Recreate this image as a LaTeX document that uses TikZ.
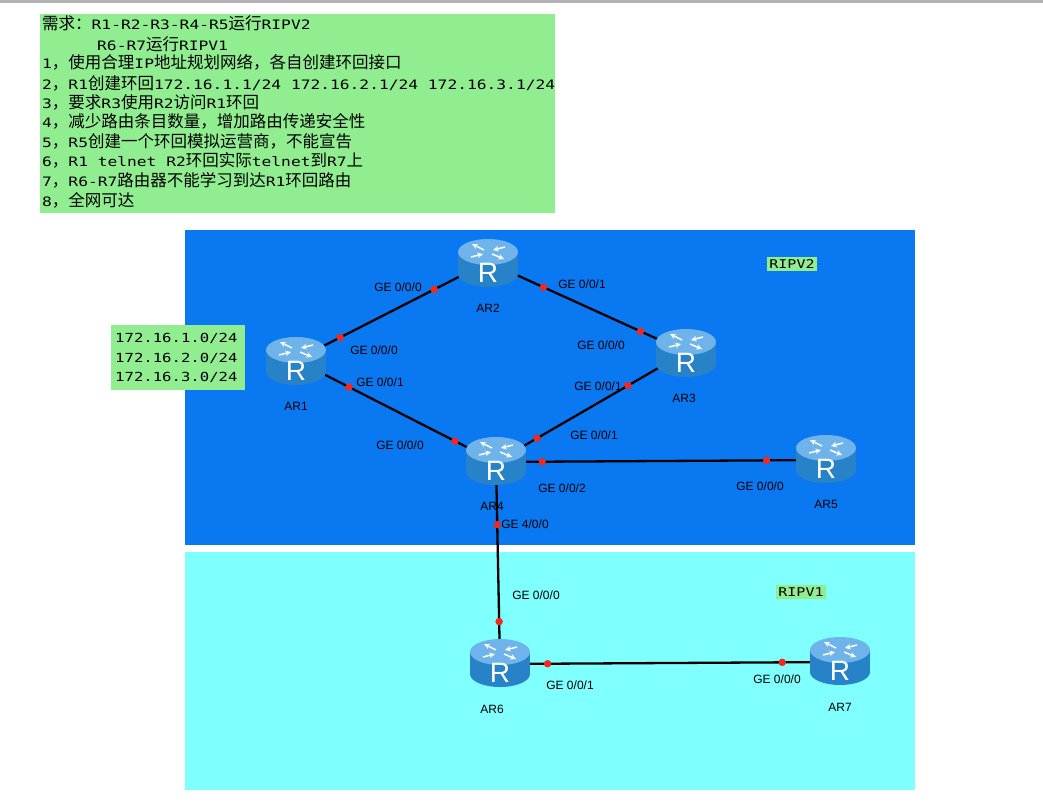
\documentclass[tikz,border=0pt]{standalone}
\usepackage{fontspec}
\setmainfont{Liberation Sans}
\newfontfamily\cjk{Noto Sans CJK SC}
\newfontfamily\mono[FakeStretch=1.25]{DejaVu Sans Mono}
\newcommand{\zh}[1]{{\cjk\fontsize{16.5}{17}\selectfont #1}}
\definecolor{rbody}{RGB}{40,130,200}
\definecolor{rtop}{RGB}{110,180,235}
\definecolor{lgreen}{RGB}{144,238,144}
\definecolor{areablue}{RGB}{10,120,240}
\definecolor{areacyan}{RGB}{128,255,255}
\definecolor{dotred}{RGB}{240,40,30}
\begin{document}
\begin{tikzpicture}[x=1pt,y=-1pt,
  lbl/.style={font=\fontsize{12}{13}\selectfont,inner sep=0},
  link/.style={line width=2.3pt,black},
  rnode/.style={minimum width=62pt,minimum height=54pt,inner sep=0},
  dot/.style={circle,fill=dotred,inner sep=0,minimum size=7.5pt},
  req/.style={anchor=west,inner sep=0,font=\mono\fontsize{13}{14}\selectfont},
  lbk/.style={anchor=west,inner sep=0,font=\mono\fontsize{12.5}{14}\selectfont},
  tag/.style={fill=lgreen,inner sep=2.5pt,font=\mono\fontsize{12}{13}\selectfont},
  router/.pic={
    \fill[rbody] (-30,-10) rectangle (30,12);
    \fill[rbody] (0,12) ellipse [x radius=30,y radius=13];
    \fill[rtop] (0,-10) ellipse [x radius=30,y radius=13];
    \draw[white,line width=1.5pt,-stealth] (-4,-12)--(-16,-18);
    \draw[white,line width=1.5pt,-stealth] (4,-8)--(16,-3);
    \draw[white,line width=1.5pt,-stealth] (-17,-5)--(-5,-8);
    \draw[white,line width=1.5pt,-stealth] (17,-15)--(5,-12);
    \node[white,font=\fontsize{28}{28}\selectfont] at (0,11) {R};
  }]
\useasboundingbox (0,0) rectangle (1043,808);
\fill[white] (0,0) rectangle (1043,808);
\fill[gray!60] (0,0) rectangle (1043,3);
\fill[areablue] (185,230) rectangle (915,545);
\fill[areacyan] (185,552) rectangle (915,790);
\fill[lgreen] (40,14) rectangle (555,213);
\node[req] (q0) at (42,23) {\zh{需求：}R1-R2-R3-R4-R5\zh{运行}RIPV2};
\node[req] (q1) at (97,44) {R6-R7\zh{运行}RIPV1};
\node[req] (q2) at (42,62) {1\zh{，使用合理}IP\zh{地址规划网络，各自创建环回接口}};
\node[req] (q3) at (42,83) {2\zh{，}R1\zh{创建环回}172.16.1.1/24 172.16.2.1/24 172.16.3.1/24};
\node[req] (q4) at (42,102) {3\zh{，要求}R3\zh{使用}R2\zh{访问}R1\zh{环回}};
\node[req] (q5) at (42,121) {4\zh{，减少路由条目数量，增加路由传递安全性}};
\node[req] (q6) at (42,141) {5\zh{，}R5\zh{创建一个环回模拟运营商，不能宣告}};
\node[req] (q7) at (42,160) {6\zh{，}R1 telnet R2\zh{环回实际}telnet\zh{到}R7\zh{上}};
\node[req] (q8) at (42,180) {7\zh{，}R6-R7\zh{路由器不能学习到达}R1\zh{环回路由}};
\node[req] (q9) at (42,200) {8\zh{，全网可达}};
\fill[lgreen] (111,325) rectangle (245,390);
\node[lbk] (lb1) at (115,338) {172.16.1.0/24};
\node[lbk] (lb2) at (115,358) {172.16.2.0/24};
\node[lbk] (lb3) at (115,377) {172.16.3.0/24};
\node[tag] (t2) at (792,264) {RIPV2};
\node[tag] (t1) at (801,592) {RIPV1};
\node[rnode] (r1) at (296,360) {};
\node[rnode] (r2) at (488,262) {};
\node[rnode] (r3) at (686,352) {};
\node[rnode] (r4) at (496,462) {};
\node[rnode] (r5) at (826,460) {};
\node[rnode] (r6) at (500,664) {};
\node[rnode] (r7) at (840,662) {};
\draw[link] (r1.center) -- (r2.center);
\draw[link] (r2.center) -- (r3.center);
\draw[link] (r1.center) -- (r4.center);
\draw[link] (r3.center) -- (r4.center);
\draw[link] (r4.center) -- (r5.center);
\draw[link] (r4.center) -- (r6.center);
\draw[link] (r6.center) -- (r7.center);
\foreach \p in {(296,360),(488,262),(686,352),(496,460),(826,458),(500,662),(840,660)}
  \pic at \p {router};
\path (r1.center) -- node[dot,pos=0.23]{} node[dot,pos=0.72]{} (r2.center);
\path (r2.center) -- node[dot,pos=0.28]{} node[dot,pos=0.77]{} (r3.center);
\path (r1.center) -- node[dot,pos=0.265]{} node[dot,pos=0.795]{} (r4.center);
\path (r3.center) -- node[dot,pos=0.305]{} node[dot,pos=0.784]{} (r4.center);
\path (r4.center) -- node[dot,pos=0.14]{} node[dot,pos=0.82]{} (r5.center);
\path (r4.center) -- node[dot,pos=0.31]{} node[dot,pos=0.79]{} (r6.center);
\path (r6.center) -- node[dot,pos=0.14]{} node[dot,pos=0.83]{} (r7.center);
\node[lbl] (n1) at (296,406) {AR1};
\node[lbl] (n2) at (488,308) {AR2};
\node[lbl] (n3) at (684,398) {AR3};
\node[lbl] (n4) at (492,506) {AR4};
\node[lbl] (n5) at (826,504) {AR5};
\node[lbl] (n6) at (492,709) {AR6};
\node[lbl] (n7) at (840,707) {AR7};
\node[lbl] (i1) at (398,287) {GE 0/0/0};
\node[lbl] (i2) at (374,350) {GE 0/0/0};
\node[lbl] (i3) at (380,382) {GE 0/0/1};
\node[lbl] (i4) at (582,284) {GE 0/0/1};
\node[lbl] (i5) at (601,345) {GE 0/0/0};
\node[lbl] (i6) at (598,386) {GE 0/0/1};
\node[lbl] (i7) at (400,445) {GE 0/0/0};
\node[lbl] (i8) at (594,435) {GE 0/0/1};
\node[lbl] (i9) at (562,488) {GE 0/0/2};
\node[lbl] (i10) at (760,486) {GE 0/0/0};
\node[lbl] (i11) at (525,524) {GE 4/0/0};
\node[lbl] (i12) at (536,595) {GE 0/0/0};
\node[lbl] (i13) at (570,685) {GE 0/0/1};
\node[lbl] (i14) at (777,679) {GE 0/0/0};
\end{tikzpicture}
\end{document}
